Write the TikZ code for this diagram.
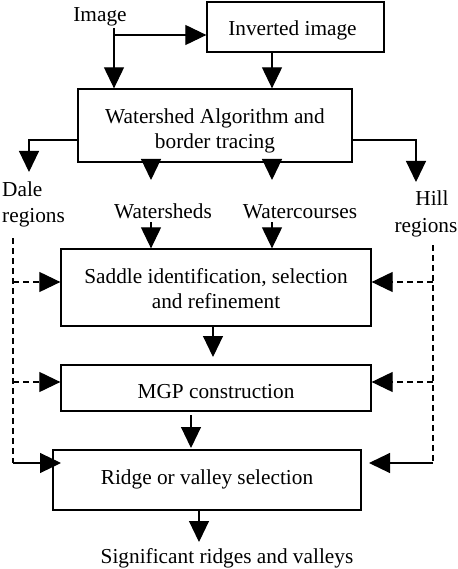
\documentclass[tikz,border=0pt]{standalone}
\usepackage{fontspec}
\setmainfont{Liberation Serif}
\usetikzlibrary{arrows.meta,calc}
\begin{document}
\begin{tikzpicture}[x=1pt,y=-1pt,
  every node/.style={font=\fontsize{21.3}{25}\selectfont, inner sep=0pt},
  box/.style={draw, line width=1.3pt, anchor=base},
  arr/.style={line width=1.1pt, -{Triangle[length=21pt,width=20pt]}},
  fb/.style={line width=1.1pt, dash pattern=on 6pt off 4pt},
  lbl/.style={anchor=base}]
\useasboundingbox (0,0) rectangle (457,569);

% boxes (placed at first baseline; text height = baseline - top, text depth = bottom - baseline)
\node[box, minimum width=177pt, text height=34pt, text depth=16pt] (inv) at (295.5,36) {\hspace{-6pt}Inverted image};
\node[box, minimum width=274pt, text height=35pt, text depth=38pt] (ws) at (215,124)
  {\begin{tabular}[t]{@{}c@{}}Watershed Algorithm and\\border tracing\end{tabular}};
\node[box, minimum width=310pt, text height=34pt, text depth=43pt] (sad) at (216,283)
  {\begin{tabular}[t]{@{}c@{}}Saddle identification, selection\\and refinement\end{tabular}};
\node[box, minimum width=310pt, text height=33pt, text depth=13pt] (mgp) at (216,398) {MGP construction};
\node[box, minimum width=308pt, text height=34pt, text depth=26pt] (rid) at (207,484) {Ridge or valley selection};

% labels
\node[lbl] (img) at (100,22) {Image};
\node[lbl] (wsh) at (163,218) {Watersheds};
\node[lbl] (wc) at (300,218) {Watercourses};
\node[lbl] (out) at (227,563) {Significant ridges and valleys};
\node[anchor=north west, align=left, font=\fontsize{21.3}{26}\selectfont] (dale) at (2,181.6) {Dale\\regions};
\node[anchor=north, align=center, font=\fontsize{21.3}{27}\selectfont] (hill) at (426,190.6) {\hspace{12pt}Hill\\regions};

% coordinates
\coordinate (ib) at (114,28);
\coordinate (ih) at (114,35);
\coordinate (iv) at (272,0);
\coordinate (dl) at (29,140);
\coordinate (dt) at (29,172);
\coordinate (hl) at (416,140);
\coordinate (ht) at (416,182);
\coordinate (w1) at (151,180);
\coordinate (w2) at (272,180);
\coordinate (w1s) at (151,222);
\coordinate (w2s) at (272,222);
\coordinate (sm) at (213,357);
\coordinate (mr1) at (191,415);
\coordinate (mr2) at (191,448);
\coordinate (ro) at (199,542);
\coordinate (lt) at (13,238);
\coordinate (l1) at (13,282);
\coordinate (l2) at (13,382);
\coordinate (l3) at (13,463);
\coordinate (l3e) at (61,463);
\coordinate (rt) at (433,245);
\coordinate (r1) at (433,282);
\coordinate (r2) at (433,382);
\coordinate (r3) at (433,463);
\coordinate (r3e) at (369,463);

% top arrows
\draw[arr] (ib) -- (ib |- ws.north);
\draw[arr] (ih) -- (ih -| inv.west);
\draw[arr] (iv |- inv.south) -- (iv |- ws.north);
\draw[arr] (dl -| ws.west) -- (dl) -- (dt);
\draw[arr] (hl -| ws.east) -- (hl) -- (ht);
\draw[arr] (w1 |- ws.south) -- (w1);
\draw[arr] (w2 |- ws.south) -- (w2);
\draw[arr] (w1s) -- (w1s |- sad.north);
\draw[arr] (w2s) -- (w2s |- sad.north);

% main chain
\draw[arr] (sm |- sad.south) -- (sm);
\draw[arr] (mr1) -- (mr2);
\draw[arr] (ro |- rid.south) -- (ro);

% left feedback
\draw[fb] (lt) -- (l3);
\draw[arr] (l3) -- (l3e);
\draw[arr,fb] (l1) -- (l1 -| sad.west);
\draw[arr,fb] (l2) -- (l2 -| mgp.west);

% right feedback
\draw[fb] (rt) -- (r3);
\draw[arr] (r3) -- (r3e);
\draw[arr,fb] (r1) -- (r1 -| sad.east);
\draw[arr,fb] (r2) -- (r2 -| mgp.east);
\end{tikzpicture}
\end{document}
